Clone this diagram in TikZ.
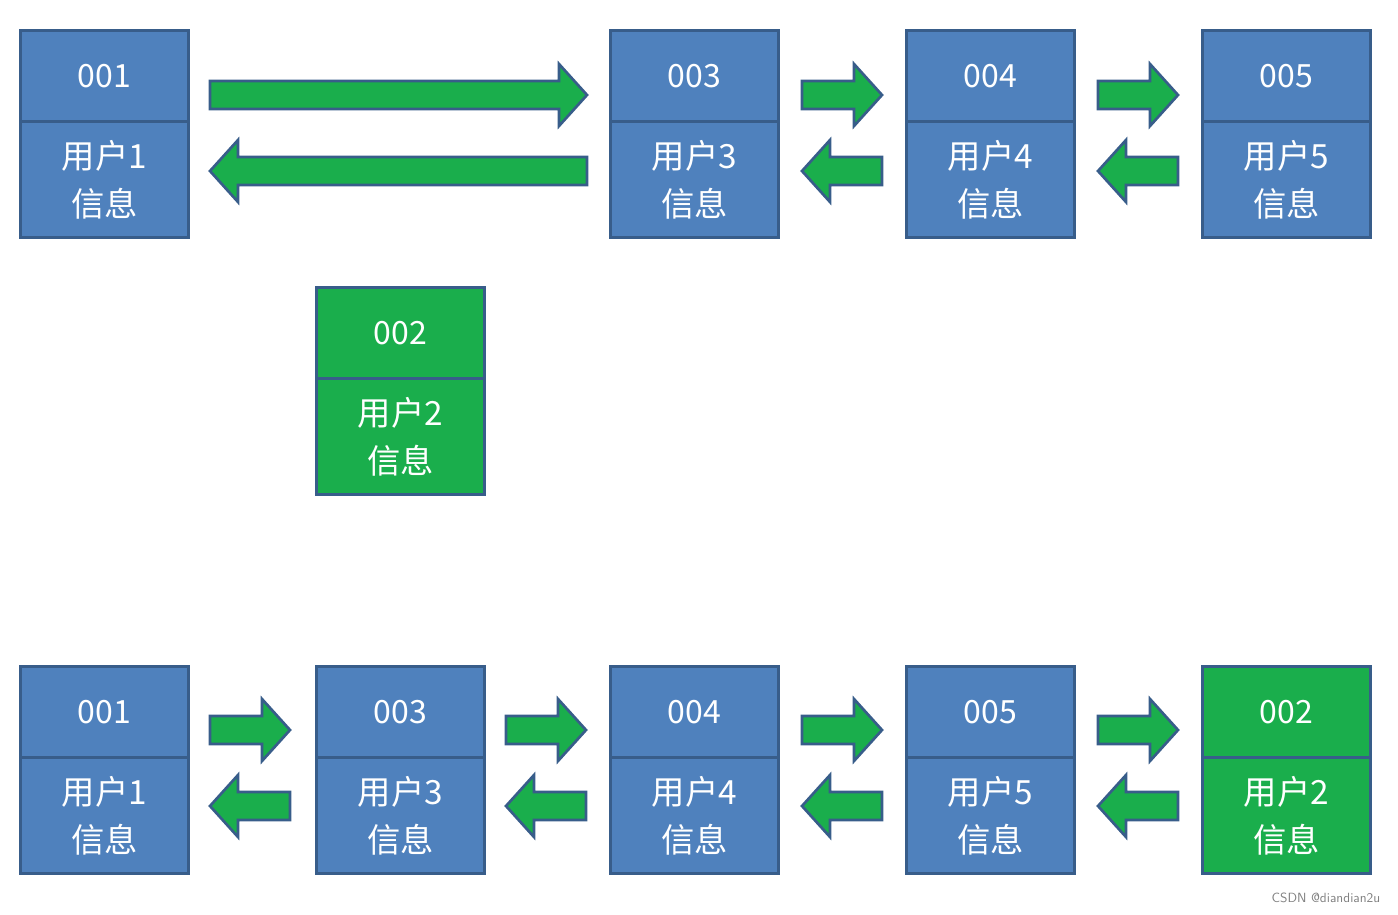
\documentclass[tikz,border=0pt]{standalone}
\usepackage{fontspec}
\setmainfont{Noto Sans CJK SC}
\begin{document}
\definecolor{bfill}{HTML}{4F81BD}
\definecolor{bline}{HTML}{385D8A}
\definecolor{gfill}{HTML}{1AAE4C}
\newcommand\rar[3]{\draw[arr] (#1,#3-14)--(#2-28,#3-14)--(#2-28,#3-31)--(#2,#3)--(#2-28,#3+31)--(#2-28,#3+14)--(#1,#3+14)--cycle;}
\newcommand\lar[3]{\draw[arr] (#2,#3-14)--(#1+28,#3-14)--(#1+28,#3-31)--(#1,#3)--(#1+28,#3+31)--(#1+28,#3+14)--(#2,#3+14)--cycle;}
\newcommand\blk[5]{% x y num label fill
 \node[cell,fill=#5,minimum height=68.25pt,anchor=north west] (#3a) at (#1,#2) {#3};
 \node[cell,fill=#5,minimum height=87pt,anchor=north west,align=center,font=\fontsize{25}{36}\selectfont] (#3b) at (#1,#2+91) {用户#4\\信息};}
\begin{tikzpicture}[x=0.75pt,y=-0.75pt,
 cell/.style={draw=bline,line width=2.2pt,minimum width=126pt,inner sep=0pt,text=white,font=\fontsize{24}{28}\selectfont},
 arr/.style={fill=gfill,draw=bline,line width=2pt,line join=miter}]
\useasboundingbox (0,0) rectangle (1398,914);
\blk{19}{29}{001}{1}{bfill}
\blk{609}{29}{003}{3}{bfill}
\blk{905}{29}{004}{4}{bfill}
\blk{1201}{29}{005}{5}{bfill}
\node[cell,fill=gfill,minimum height=68.25pt,anchor=north west] (n2a) at (315,286) {002};
\node[cell,fill=gfill,minimum height=87pt,anchor=north west,align=center,font=\fontsize{25}{36}\selectfont] (n2b) at (315,377) {用户2\\信息};
\rar{210}{587}{95}\lar{210}{587}{171}
\rar{802}{882}{95}\lar{802}{882}{171}
\rar{1098}{1178}{95}\lar{1098}{1178}{171}
\begin{scope}
\node[cell,fill=bfill,minimum height=68.25pt,anchor=north west] (m1a) at (19,665) {001};
\node[cell,fill=bfill,minimum height=87pt,anchor=north west,align=center,font=\fontsize{25}{36}\selectfont] (m1b) at (19,756) {用户1\\信息};
\node[cell,fill=bfill,minimum height=68.25pt,anchor=north west] (m3a) at (315,665) {003};
\node[cell,fill=bfill,minimum height=87pt,anchor=north west,align=center,font=\fontsize{25}{36}\selectfont] (m3b) at (315,756) {用户3\\信息};
\node[cell,fill=bfill,minimum height=68.25pt,anchor=north west] (m4a) at (609,665) {004};
\node[cell,fill=bfill,minimum height=87pt,anchor=north west,align=center,font=\fontsize{25}{36}\selectfont] (m4b) at (609,756) {用户4\\信息};
\node[cell,fill=bfill,minimum height=68.25pt,anchor=north west] (m5a) at (905,665) {005};
\node[cell,fill=bfill,minimum height=87pt,anchor=north west,align=center,font=\fontsize{25}{36}\selectfont] (m5b) at (905,756) {用户5\\信息};
\node[cell,fill=gfill,minimum height=68.25pt,anchor=north west] (m2a) at (1201,665) {002};
\node[cell,fill=gfill,minimum height=87pt,anchor=north west,align=center,font=\fontsize{25}{36}\selectfont] (m2b) at (1201,756) {用户2\\信息};
\end{scope}
\rar{210}{290}{730}\lar{210}{290}{806}
\rar{506}{586}{730}\lar{506}{586}{806}
\rar{802}{882}{730}\lar{802}{882}{806}
\rar{1098}{1178}{730}\lar{1098}{1178}{806}
\node[text=gray,font=\fontsize{10}{12}\selectfont\sffamily,anchor=east] (wm) at (1385,898) {CSDN @diandian2u};
\end{tikzpicture}
\end{document}
